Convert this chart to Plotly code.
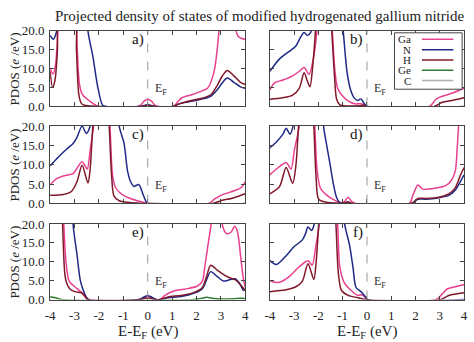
import plotly.graph_objects as go

# ---------------- data (energy E-E_F in eV, PDOS in e/eV) ----------------
# Panel a
a_E_Ga = [-4.0, -3.88, -3.78, -3.68, -3.55, -3.05, -2.92, -2.8, -2.68, -2.55, -2.35, -2.15, -2.0, -0.45, -0.3, -0.15, 0.0, 0.15, 0.3, 0.45, 1.05, 1.2, 1.4, 1.8, 2.25, 2.45, 2.72, 2.92, 3.1, 3.4, 3.56, 3.7, 3.85, 4.0]
a_Ga = [10.1, 8.6, 11.0, 20.0, 35.0, 35.0, 20.0, 6.0, 3.2, 2.3, 1.3, 0.4, 0.0, 0.0, 0.3, 1.4, 1.9, 1.4, 0.3, 0.0, 0.0, 1.0, 2.3, 3.1, 4.2, 4.8, 9.3, 20.0, 35.0, 35.0, 22.0, 18.6, 18.0, 17.8]
a_E_N = [-4.0, -3.87, -3.75, -3.65, -3.5, -2.6, -2.45, -2.25, -2.05, -1.85, -1.7, -0.3, -0.15, 0.0, 0.15, 0.3, 1.05, 1.25, 1.65, 2.18, 2.58, 2.85, 3.05, 3.26, 3.53, 3.8, 4.0]
a_N = [18.8, 17.8, 19.5, 25.0, 35.0, 35.0, 20.0, 13.3, 5.2, 0.3, 0.0, 0.0, 0.25, 0.5, 0.25, 0.0, 0.0, 0.6, 1.2, 1.9, 2.7, 4.4, 6.2, 7.5, 6.4, 5.2, 4.8]
a_E_H = [-4.0, -3.9, -3.8, -3.7, -3.6, -3.0, -2.92, -2.82, -2.72, -2.6, -2.3, -2.0, -0.3, -0.15, 0.0, 0.15, 0.3, 1.05, 1.25, 1.65, 2.18, 2.58, 2.85, 3.05, 3.26, 3.53, 3.8, 4.0]
a_H = [9.3, 5.0, 7.0, 15.0, 30.0, 30.0, 15.0, 3.0, 0.8, 0.3, 0.1, 0.0, 0.0, 0.15, 0.3, 0.15, 0.0, 0.0, 0.6, 1.4, 2.1, 3.1, 5.6, 8.0, 9.5, 8.1, 6.4, 5.8]

# Panel b
b_E_Ga = [-4.0, -3.8, -3.46, -3.06, -2.79, -2.59, -2.39, -2.19, -2.06, -1.9, -1.6, -1.43, -1.32, -1.21, -1.05, -0.78, -0.51, -0.25, -0.05, 0.05, 2.57, 2.84, 3.1, 3.5, 4.0]
b_Ga = [4.4, 6.3, 7.0, 8.1, 9.3, 10.3, 8.5, 13.4, 20.0, 35.0, 35.0, 20.0, 9.3, 4.8, 3.1, 1.5, 0.7, 0.7, 0.25, 0.0, 0.0, 1.9, 2.7, 3.5, 4.8]
b_E_N = [-4.0, -3.6, -3.2, -2.93, -2.73, -2.59, -2.46, -2.32, -2.19, -2.0, -1.2, -0.98, -0.82, -0.68, -0.52, -0.38, -0.25, -0.11, 0.02, 4.0]
b_N = [9.3, 12.6, 14.6, 16.0, 18.4, 19.6, 18.8, 19.6, 25.0, 35.0, 35.0, 20.0, 9.0, 4.5, 2.2, 1.6, 2.0, 0.7, 0.0, 0.0]
b_E_H = [-4.0, -3.46, -3.06, -2.79, -2.59, -2.46, -2.35, -2.23, -2.12, -1.95, -1.6, -1.45, -1.35, -1.25, -1.12, -0.8, -0.3, -0.15, 0.0, 2.77, 3.1, 3.5, 4.0]
b_H = [1.9, 2.3, 3.0, 4.8, 8.9, 6.8, 5.2, 11.0, 20.0, 35.0, 35.0, 20.0, 9.3, 1.9, 0.4, 0.1, 0.2, 0.3, 0.0, 0.0, 1.1, 1.6, 2.3]

# Panel c
c_E_Ga = [-4.0, -3.73, -3.39, -3.06, -2.69, -2.48, -2.36, -2.22, -2.0, -1.75, -1.55, -1.44, -1.31, -1.04, -0.63, -0.23, 0.0, 2.49, 2.73, 3.0, 3.54, 3.81, 4.0]
c_Ga = [4.8, 6.4, 7.2, 7.7, 10.8, 8.9, 13.8, 20.0, 35.0, 35.0, 20.0, 7.2, 4.0, 2.3, 1.1, 0.4, 0.0, 0.0, 1.1, 2.1, 3.3, 4.0, 5.6]
c_E_N = [-4.0, -3.66, -3.33, -3.06, -2.9, -2.69, -2.52, -2.38, -2.28, -2.1, -1.35, -1.17, -0.97, -0.83, -0.7, -0.57, -0.37, -0.17, 0.0, 4.0]
c_N = [9.7, 12.0, 14.0, 15.5, 17.1, 20.0, 18.1, 19.6, 25.0, 35.0, 35.0, 20.0, 15.5, 8.5, 5.6, 4.4, 4.9, 2.0, 0.0, 0.0]
c_E_H = [-4.0, -3.46, -3.13, -2.9, -2.69, -2.45, -2.36, -2.25, -2.05, -1.75, -1.58, -1.48, -1.38, -1.17, -0.77, -0.4, 0.0, 2.66, 3.0, 3.54, 4.0]
c_H = [2.1, 2.3, 3.1, 5.6, 9.9, 5.3, 8.9, 20.0, 35.0, 35.0, 20.0, 7.2, 1.9, 0.7, 0.25, 0.1, 0.0, 0.0, 0.7, 1.5, 2.5]

# Panel d
d_E_Ga = [-4.0, -3.73, -3.33, -3.13, -2.99, -2.79, -2.6, -2.3, -2.15, -2.06, -1.92, -1.65, -1.32, -1.12, -0.94, -0.78, -0.62, -0.45, 1.74, 1.9, 2.1, 2.3, 2.84, 3.24, 3.48, 3.64, 3.71, 3.77, 3.9, 4.0]
d_Ga = [7.4, 8.9, 10.5, 8.9, 13.8, 20.0, 35.0, 35.0, 20.0, 8.9, 4.0, 2.1, 0.8, 0.25, 0.4, 1.6, 0.5, 0.0, 0.0, 2.3, 4.8, 3.7, 4.0, 4.6, 6.0, 8.5, 13.8, 20.0, 35.0, 35.0]
d_E_N = [-4.0, -3.73, -3.46, -3.33, -3.17, -3.06, -2.95, -2.8, -1.95, -1.79, -1.65, -1.52, -1.39, -1.25, -1.12, -0.95, -0.78, -0.62, 1.83, 2.1, 2.43, 2.97, 3.37, 3.64, 3.84, 4.0]
d_N = [14.4, 15.9, 17.9, 19.4, 17.9, 19.6, 25.0, 35.0, 35.0, 20.0, 14.7, 10.1, 5.2, 1.5, 0.25, 0.1, 0.4, 0.0, 0.0, 1.1, 1.1, 1.5, 2.1, 3.5, 5.6, 7.4]
d_E_H = [-4.0, -3.6, -3.33, -3.06, -2.93, -2.82, -2.65, -2.35, -2.19, -2.1, -1.99, -1.72, -1.32, -0.95, -0.78, -0.6, 1.83, 2.1, 2.43, 2.97, 3.37, 3.64, 3.84, 4.0]
d_H = [2.5, 4.4, 9.3, 5.2, 9.7, 20.0, 35.0, 35.0, 20.0, 7.2, 1.1, 0.4, 0.1, 0.15, 0.4, 0.0, 0.0, 1.3, 1.3, 1.6, 2.5, 4.1, 7.2, 9.3]

# Panel e
e_E_Ga = [-4.0, -3.5, -3.44, -3.33, -3.22, -2.99, -2.72, -2.5, -2.4, -0.35, -0.2, 0.0, 0.2, 0.35, 0.5, 0.56, 0.7, 1.1, 1.64, 2.04, 2.24, 2.34, 2.47, 2.6, 2.75, 2.95, 3.05, 3.22, 3.42, 3.56, 3.68, 3.81, 3.92, 4.0]
e_Ga = [35.0, 35.0, 20.0, 8.7, 4.9, 3.4, 1.9, 0.25, 0.0, 0.0, 0.4, 0.8, 0.4, 0.0, 0.0, 0.25, 1.1, 2.35, 2.9, 3.6, 4.9, 8.7, 14.5, 20.0, 30.0, 30.0, 20.0, 17.5, 17.9, 19.4, 17.9, 11.2, 5.5, 3.2]
e_E_N = [-4.0, -3.1, -3.06, -2.9, -2.77, -2.66, -2.52, -2.42, -0.35, -0.2, 0.0, 0.2, 0.35, 0.55, 0.83, 1.37, 1.9, 2.24, 2.41, 2.58, 2.85, 3.11, 3.38, 3.58, 3.79, 3.92, 4.0]
e_N = [35.0, 35.0, 20.0, 12.0, 5.3, 2.8, 0.7, 0.0, 0.0, 0.5, 1.1, 0.5, 0.0, 0.0, 0.5, 0.8, 1.7, 2.9, 5.3, 7.4, 6.1, 4.9, 5.3, 5.5, 4.0, 2.4, 2.8]
e_E_H = [-4.0, -3.55, -3.49, -3.4, -3.33, -3.19, -2.99, -2.72, -2.59, -2.46, -0.3, -0.15, 0.0, 0.15, 0.3, 0.5, 0.83, 1.37, 1.9, 2.24, 2.41, 2.58, 2.85, 3.11, 3.38, 3.58, 3.79, 4.0]
e_H = [35.0, 35.0, 20.0, 7.0, 4.5, 2.8, 2.1, 1.8, 1.1, 0.0, 0.0, 0.25, 0.5, 0.25, 0.0, 0.0, 0.7, 1.1, 1.9, 3.2, 6.1, 9.1, 7.8, 6.6, 5.7, 5.3, 4.0, 2.4]
e_E_Ge = [-4.0, -3.73, -3.53, 1.9, 2.2, 2.4, 2.7, 3.0, 3.5, 3.8, 4.0]
e_Ge = [0.75, 0.4, 0.0, 0.0, 0.3, 0.6, 0.3, 0.15, 0.2, 0.35, 0.3]

# Panel f
f_E_Ga = [-4.0, -3.66, -3.2, -2.79, -2.43, -2.26, -2.1, -1.96, -1.8, -1.4, -1.21, -1.12, -0.94, -0.65, -0.38, -0.22, -0.09, 0.02, 2.84, 3.1, 3.3, 3.64, 4.0]
f_Ga = [5.0, 4.5, 6.1, 8.7, 10.3, 9.1, 14.5, 20.0, 35.0, 35.0, 20.0, 8.7, 4.5, 2.4, 1.1, 1.3, 0.7, 0.0, 0.0, 1.5, 2.8, 3.4, 4.0]
f_E_N = [-4.0, -3.73, -3.33, -2.99, -2.66, -2.53, -2.43, -2.28, -2.19, -2.1, -1.95, -1.1, -0.92, -0.72, -0.58, -0.45, -0.25, -0.11, 0.02, 4.0]
f_N = [10.3, 9.3, 11.6, 14.1, 15.8, 17.5, 19.2, 18.3, 19.6, 25.0, 35.0, 35.0, 20.0, 14.5, 8.7, 3.2, 2.1, 1.1, 0.0, 0.0]
f_E_H = [-4.0, -3.33, -2.93, -2.66, -2.43, -2.19, -2.1, -1.99, -1.85, -1.45, -1.28, -1.18, -1.05, -0.78, -0.38, -0.05, 3.04, 3.37, 4.0]
f_H = [2.1, 2.6, 3.4, 4.9, 9.5, 5.3, 9.5, 20.0, 35.0, 35.0, 20.0, 7.0, 2.4, 1.1, 0.5, 0.0, 0.0, 1.1, 1.8]

species = ["Ga", "N", "H", "Ge", "C"]
colors = {"Ga": "#e8408f", "N": "#1f2a86", "H": "#80182a", "Ge": "#2f7d32", "C": "#b0b0b0"}
panel_labels = ["a)", "b)", "c)", "d)", "e)", "f)"]
x_ticks = [-4, -3, -2, -1, 0, 1, 2, 3, 4]
y_ticks = [0, 5, 10, 15, 20]

panels = [
    [("Ga", a_E_Ga, a_Ga), ("N", a_E_N, a_N), ("H", a_E_H, a_H)],
    [("Ga", b_E_Ga, b_Ga), ("N", b_E_N, b_N), ("H", b_E_H, b_H)],
    [("Ga", c_E_Ga, c_Ga), ("N", c_E_N, c_N), ("H", c_E_H, c_H)],
    [("Ga", d_E_Ga, d_Ga), ("N", d_E_N, d_N), ("H", d_E_H, d_H)],
    [("Ga", e_E_Ga, e_Ga), ("N", e_E_N, e_N), ("H", e_E_H, e_H), ("Ge", e_E_Ge, e_Ge)],
    [("Ga", f_E_Ga, f_Ga), ("N", f_E_N, f_N), ("H", f_E_H, f_H)],
]

W, H = 474, 342
FONT = "Liberation Serif, DejaVu Serif, serif"
col_px = [(46, 245), (270, 468)]
row_px = [(25, 104), (124.5, 205.5), (227, 306)]

fig = go.Figure()
layout = dict(
    width=W, height=H, margin=dict(l=0, r=0, t=0, b=0),
    paper_bgcolor="white", plot_bgcolor="white",
    showlegend=False, font=dict(family=FONT, size=12, color="#222"),
)
annotations = []
shapes = []

for i, traces in enumerate(panels):
    r, c = divmod(i, 2)
    n = i + 1
    xa = "x" if n == 1 else f"x{n}"
    ya = "y" if n == 1 else f"y{n}"
    xkey = "xaxis" if n == 1 else f"xaxis{n}"
    ykey = "yaxis" if n == 1 else f"yaxis{n}"
    x0, x1 = col_px[c]
    y0, y1 = row_px[r]
    layout[xkey] = dict(
        domain=[x0 / W, x1 / W], anchor=ya, range=[-4, 4],
        tickvals=x_ticks, ticktext=[str(v) for v in x_ticks],
        showticklabels=(r == 2), ticks="inside", ticklen=4,
        tickcolor="#444", showline=True, linecolor="#444", linewidth=1,
        mirror="allticks", showgrid=False, zeroline=False, ticklabelstandoff=4,
        tickfont=dict(family=FONT, size=13, color="#222"),
    )
    layout[ykey] = dict(
        domain=[1 - y1 / H, 1 - y0 / H], anchor=xa, range=[0, 20],
        tickvals=y_ticks, tickformat=".1f",
        showticklabels=(c == 0), ticks="inside", ticklen=4,
        tickcolor="#444", showline=True, linecolor="#444", linewidth=1,
        mirror="allticks", showgrid=False, zeroline=False, ticklabelstandoff=2,
        tickfont=dict(family=FONT, size=13, color="#222"),
    )
    for sp, ex, py in traces:
        fig.add_trace(go.Scatter(
            x=ex, y=py, mode="lines", name=sp, xaxis=xa, yaxis=ya,
            line=dict(color=colors[sp], width=1.5, shape="spline", smoothing=0.8),
            hoverinfo="skip",
        ))
    # Fermi level line
    shapes.append(dict(type="line", xref=xa, yref=f"{ya} domain", x0=0, x1=0, y0=0, y1=1,
                       line=dict(color="#999", width=1, dash="dash")))
    annotations.append(dict(xref=xa, yref=ya, x=-0.08, y=17.8, text=panel_labels[i],
                            showarrow=False, xanchor="right", yanchor="middle",
                            font=dict(family=FONT, size=15, color="#111")))
    annotations.append(dict(xref=xa, yref=ya, x=0.22, y=4.6, text="E<sub>F</sub>",
                            showarrow=False, xanchor="left", yanchor="middle",
                            font=dict(family=FONT, size=12, color="#333")))

# Y-axis titles
for (y0, y1) in row_px:
    yc = (y0 + y1) / 2
    annotations.append(dict(xref="paper", yref="paper", x=10 / W, y=1 - yc / H,
                            text="PDOS (<i>e</i> /eV)", textangle=-90, showarrow=False,
                            xanchor="center", yanchor="middle",
                            font=dict(family=FONT, size=13, color="#222")))
# X-axis titles
for (x0, x1) in col_px:
    annotations.append(dict(xref="paper", yref="paper", x=(x0 + x1) / 2 / W, y=1 - 340 / H,
                            text="E-E<sub>F</sub> (eV)", showarrow=False,
                            xanchor="center", yanchor="middle",
                            font=dict(family=FONT, size=15, color="#222")))
# Title
annotations.append(dict(xref="paper", yref="paper", x=0.5 + 22 / W, y=1 - 9 / H,
                        text="Projected density of states of modified hydrogenated gallium nitride",
                        showarrow=False, xanchor="center", yanchor="middle",
                        font=dict(family=FONT, size=15, color="#222")))

# Legend drawn inside panel b
bx0, bx1 = (397 - 270) / 198, (466 - 270) / 198
by_top, by_bot = (104 - 27) / 79, (104 - 86) / 79
shapes.append(dict(type="rect", xref="x2 domain", yref="y2 domain", x0=bx0, x1=bx1,
                   y0=by_bot, y1=by_top, line=dict(color="#444", width=1), fillcolor="white",
                   layer="above"))
for k, sp in enumerate(species):
    ypx = 33.8 + k * 10.8
    yd = (104 - ypx) / 79
    shapes.append(dict(type="line", xref="x2 domain", yref="y2 domain",
                       x0=(425 - 270) / 198, x1=(457 - 270) / 198, y0=yd, y1=yd,
                       line=dict(color=colors[sp], width=1.5), layer="above"))
    annotations.append(dict(xref="x2 domain", yref="y2 domain", x=(416 - 270) / 198, y=yd,
                            text=sp, showarrow=False, xanchor="right", yanchor="middle",
                            font=dict(family=FONT, size=11, color="#222")))

layout["annotations"] = annotations
layout["shapes"] = shapes
fig.update_layout(**layout)
fig.write_html("out.html")
